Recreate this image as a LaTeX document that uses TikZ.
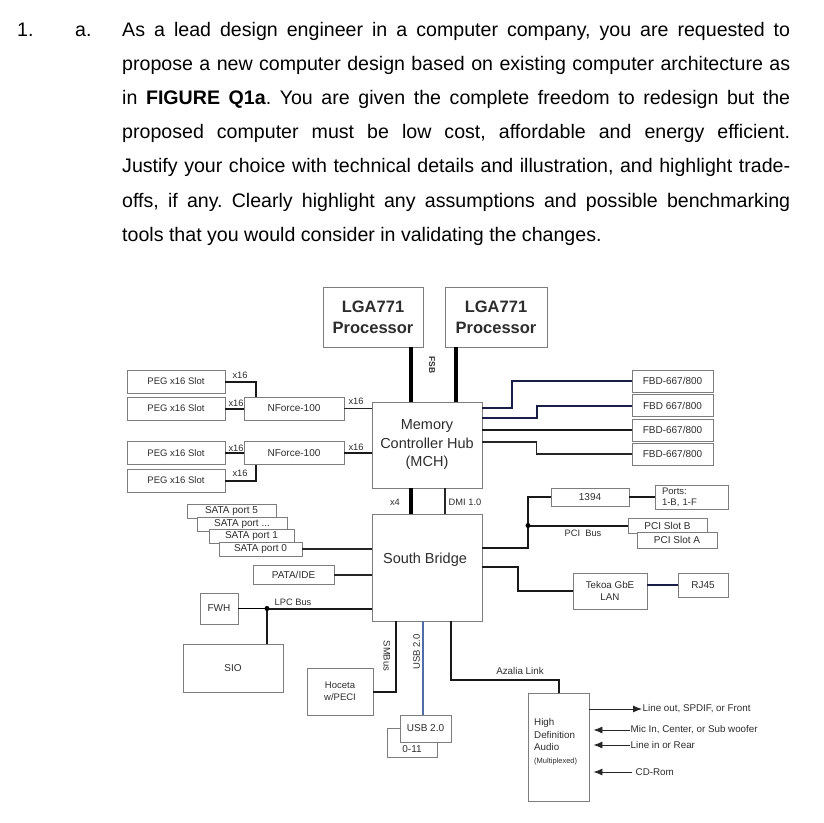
\documentclass[tikz,border=0pt]{standalone}
\usepackage{fontspec}
\setmainfont{Liberation Sans}
\usetikzlibrary{arrows.meta}
\definecolor{boxgray}{RGB}{125,125,125}
\definecolor{txt}{RGB}{45,45,45}
\definecolor{usbblue}{RGB}{80,110,165}
\definecolor{navy}{RGB}{25,30,70}
\newcommand\fsz[2]{\fontsize{#1}{#2}\selectfont}
\begin{document}
\begin{tikzpicture}[x=1pt,y=-1pt]
\tikzset{
  box/.style={draw=boxgray, line width=0.9pt, fill=white, inner sep=0pt, text=txt, font=\fsz{10}{11.5}, align=center},
  lbl/.style={inner sep=0.5pt, text=txt, font=\fsz{9.3}{10.5}},
  fsbbus/.style={line width=4pt, draw=black},
  wire/.style={line width=2pt, draw=black!90},
  fine/.style={line width=1.1pt, draw=black!85},
  arr/.style={line width=0.9pt, draw=black!85, -{Latex[length=9pt,width=7pt]}},
  jdot/.style={circle, fill=black, inner sep=0pt, minimum size=5pt},
  body/.style={inner sep=0pt, anchor=base west, font=\fsz{19.6}{34.2}},
}
\fill[white] (0,0) rectangle (824,822);
\useasboundingbox (0,0) rectangle (824,822);

% question text
\node[body] (n1) at (17,36) {1.};
\node[body] (na) at (75,36) {a.};
\node[body, text width=668pt, align=justify] (q) at (122,36) {\frenchspacing\hyphenpenalty=10000\relax
As a lead design engineer in a computer company, you are requested to\linebreak
propose a new computer design based on existing computer architecture as\linebreak
in \textbf{FIGURE Q1a}. You are given the complete freedom to redesign but the\linebreak
proposed computer must be low cost, affordable and energy efficient.\linebreak
Justify your choice with technical details and illustration, and highlight trade-\linebreak
offs, if any. Clearly highlight any assumptions and possible benchmarking\linebreak
tools that you would consider in validating the changes.};

% processors and MCH
\node[box, font=\bfseries\fsz{16.5}{21}, minimum width=100pt, minimum height=60pt] (p1) at (373,317) {LGA771\\Processor};
\node[box, font=\bfseries\fsz{16.5}{21}, minimum width=102pt, minimum height=60pt] (p2) at (496,317) {LGA771\\Processor};
\node[box, font=\fsz{14.5}{18.5}, minimum width=110pt, minimum height=86pt] (mch) at (427,445) {Memory\\Controller Hub\\(MCH)};
\node[box, minimum width=110pt, minimum height=107pt] (sb) at (427,567.5) {};
\node[inner sep=0pt, text=txt, font=\fsz{14.5}{17}] (sbt) at (425,560) {South Bridge};

\draw[fsbbus] ([xshift=38pt]p1.south) -- ([xshift=38pt]p1.south |- mch.north);
\draw[fsbbus] ([xshift=-40pt]p2.south) -- ([xshift=-40pt]p2.south |- mch.north);
\node[lbl, rotate=-90, font=\bfseries\fsz{8.5}{10}] (fsb) at (432,365) {FSB};

% PEG slots and NForce
\foreach \n/\y in {1/381.5,2/408.5,3/453,4/480.5}
  \node[box, font=\fsz{9.5}{11}, minimum width=98pt, minimum height=23pt] (peg\n) at (176,\y) {PEG x16 Slot};
\node[box, minimum width=100pt, minimum height=23pt] (nf1) at (294,408.5) {NForce-100};
\node[box, minimum width=100pt, minimum height=23pt] (nf2) at (294,453) {NForce-100};
\draw[wire] (peg1.east) -| ([xshift=12pt]nf1.north west);
\draw[wire] (peg2.east) -- (nf1.west);
\draw[wire] (peg3.east) -- (nf2.west);
\draw[wire] (peg4.east) -| ([xshift=12pt]nf2.south west);
\draw[fine] (nf1.east) -- (nf1.east -| mch.west);
\draw[wire] (nf2.east) -- (nf2.east -| mch.west);
\node[lbl] (l1) at (240,375) {x16};
\node[lbl] (l2) at (236,403) {x16};
\node[lbl] (l3) at (236,448) {x16};
\node[lbl] (l4) at (240,473.5) {x16};
\node[lbl] (l5) at (356,401) {x16};
\node[lbl] (l6) at (356,447) {x16};

% FBD memory
\node[box, minimum width=81pt, minimum height=22pt] (fbd1) at (672.5,381) {FBD-667/800};
\node[box, minimum width=81pt, minimum height=22pt] (fbd2) at (672.5,405.5) {FBD 667/800};
\node[box, minimum width=81pt, minimum height=22pt] (fbd3) at (672.5,430) {FBD-667/800};
\node[box, minimum width=81pt, minimum height=22pt] (fbd4) at (672.5,454) {FBD-667/800};
\draw[wire, draw=navy] (mch.east |- 0,408) -| ([xshift=-120pt]fbd1.west) -- (fbd1.west);
\draw[wire, draw=navy] (mch.east |- 0,418) -| ([xshift=-95pt]fbd2.west) -- (fbd2.west);
\draw[wire] (mch.east |- fbd3.west) -- (fbd3.west);
\draw[fine] (mch.east |- 0,442) -| ([xshift=-95pt]fbd4.west) -- (fbd4.west);

% MCH - SB
\draw[line width=3.5pt] ([xshift=-16pt]mch.south) -- ([xshift=-16pt]mch.south |- sb.north);
\draw[fine] ([xshift=18pt]mch.south) -- ([xshift=18pt]mch.south |- sb.north);
\node[lbl] (lx4) at (395,502) {x4};
\node[lbl, anchor=west] (ldmi) at (448,502) {DMI 1.0};

% SATA, PATA, FWH, SIO
\node[box, minimum width=89pt, minimum height=14pt] (sata5) at (231.5,511.5) {SATA port 5};
\node[box, minimum width=90pt, minimum height=14pt] (satad) at (242,524) {SATA port ...};
\node[box, minimum width=85pt, minimum height=14pt] (sata1) at (251.5,536.5) {SATA port 1};
\node[box, minimum width=83pt, minimum height=14pt] (sata0) at (260.5,549) {SATA port 0};
\draw[fine] (sata0.east) -- (sata0.east -| sb.west);
\node[box, minimum width=81pt, minimum height=19pt] (pata) at (293.5,575) {PATA/IDE};
\draw[fine] (pata.east) -- (pata.east -| sb.west);
\node[box, minimum width=38pt, minimum height=31pt] (fwh) at (219,608.5) {FWH};
\node[box, minimum width=100pt, minimum height=48pt] (sio) at (233,668) {SIO};
\coordinate (lpc) at (267,608.5);
\draw[line width=0.9pt] (fwh.east) -- (lpc);
\draw[wire] (lpc) -- (lpc -| sb.west);
\draw[wire] (lpc) -- (lpc |- sio.north);
\node[jdot] (lpcdot) at (lpc) {};
\node[lbl] (llpc) at (293,602) {LPC Bus};

% SB bottom
\node[box, font=\fsz{9.5}{12}, minimum width=66pt, minimum height=47pt] (hoc) at (340,691.5) {Hoceta\\w/PECI};
\draw[wire] ([xshift=-31pt]sb.south) |- (hoc.east);
\node[lbl, rotate=-90, font=\fsz{9.5}{11}] (lsmb) at (387,656) {SMBus};
\node[box, minimum width=50pt, minimum height=29pt] (u011) at (412,742.5) {\raisebox{-6.5pt}[\height][\depth]{0-11}};
\node[box, minimum width=51pt, minimum height=27pt] (usb) at (425.5,728.5) {USB 2.0};
\draw[line width=1.1pt, draw=usbblue] ([xshift=-4pt]sb.south) -- ([xshift=-4pt]sb.south |- usb.north);
\node[lbl, rotate=90, font=\fsz{9.5}{11}] (lusb) at (416.5,652) {USB 2.0};

% audio
\node[box, minimum width=61pt, minimum height=108pt] (hda) at (558.5,747) {};
\node[anchor=north west, inner sep=0pt, text=txt, font=\fsz{9.8}{12.5}, align=left] (hdat) at (534,718.5) {High\\Definition\\Audio\\{\fsz{7.5}{12.5}(Multiplexed)}};
\draw[wire] ([xshift=24pt]sb.south) |- (hda.north |- 0,680) -- (hda.north);
\node[lbl, font=\fsz{9.8}{11}] (lazl) at (520,671) {Azalia Link};
\node[lbl, anchor=west, font=\fsz{9.8}{11}] (lo) at (642,709) {Line out, SPDIF, or Front};
\node[lbl, anchor=west, font=\fsz{9.8}{11}] (mic) at (630,730) {Mic In, Center, or Sub woofer};
\node[lbl, anchor=west, font=\fsz{9.8}{11}] (lin) at (630,745) {Line in or Rear};
\node[lbl, anchor=west, font=\fsz{9.8}{11}] (cd) at (635,772) {CD-Rom};
\draw[arr] (hda.east |- lo.west) -- (lo.west);
\draw[arr] (mic.west) -- ([xshift=4pt]mic.west -| hda.east);
\draw[arr] (lin.west) -- ([xshift=4pt]lin.west -| hda.east);
\draw[arr] ([xshift=-3pt]cd.west) -- ([xshift=4pt]cd.west -| hda.east);

% PCI, 1394, LAN
\node[box, minimum width=78pt, minimum height=18pt] (t1394) at (590,497) {1394};
\node[box, font=\fsz{9.5}{11}, minimum width=73pt, minimum height=24pt, text width=59pt, align=left] (ports) at (691.5,497) {Ports:\\1-B, 1-F};
\draw[wire] (t1394.east) -- (ports.west);
\draw[wire] (sb.east |- 0,548) -| ([xshift=-23pt]t1394.west) -- (t1394.west);
\node[box, minimum width=79pt, minimum height=15pt] (pcib) at (667.5,525.5) {PCI Slot B};
\node[box, minimum width=80pt, minimum height=16pt] (pcia) at (677,540) {PCI Slot A};
\coordinate (pcij) at (528,525.5);
\draw[wire] (pcij) -- (pcib.west);
\node[jdot] (pcidot) at (pcij) {};
\node[lbl] (lpci) at (583,533) {PCI~~Bus};
\node[box, minimum width=74pt, minimum height=36pt, font=\fsz{9.8}{12}] (tekoa) at (610,591) {Tekoa GbE\\LAN};
\node[box, minimum width=50pt, minimum height=24pt] (rj45) at (703,585) {RJ45};
\draw[wire] (sb.east |- 0,567) -| ([xshift=-55pt]tekoa.west) -- (tekoa.west);
\draw[wire, draw=navy] (tekoa.east |- rj45.west) -- (rj45.west);
\end{tikzpicture}
\end{document}
